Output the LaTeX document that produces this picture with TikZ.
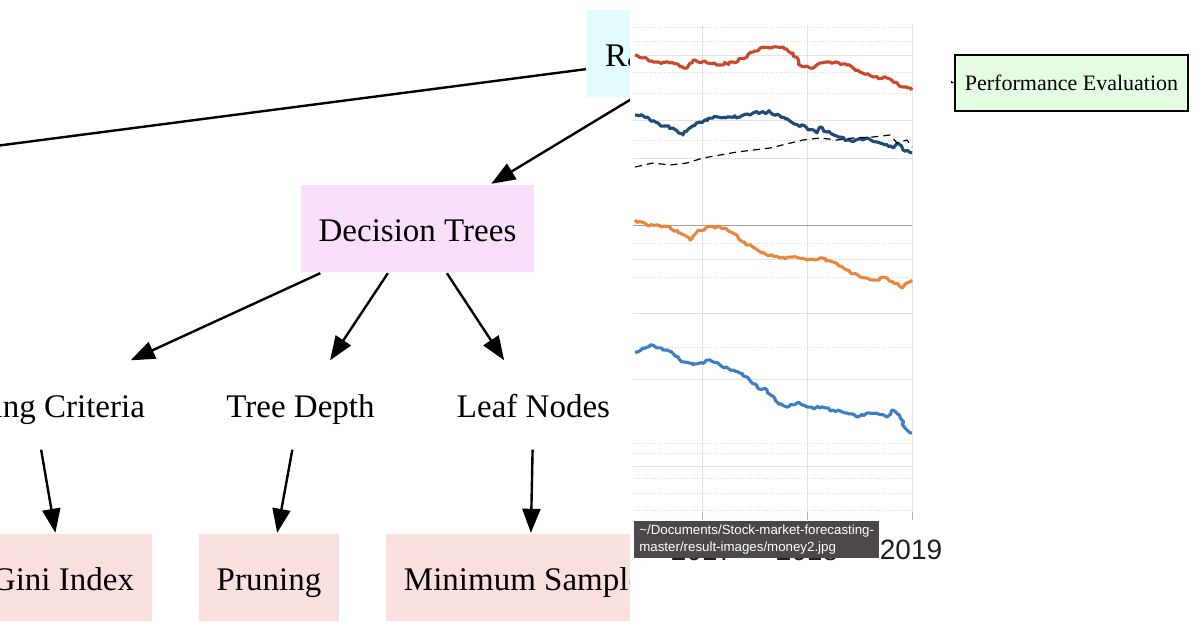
\documentclass[tikz,border=0pt]{standalone}
\usepackage{fontspec}
\setmainfont{Liberation Serif}
\newfontfamily\chartfont{Liberation Sans}
\usepackage{tikz}
\usetikzlibrary{positioning,arrows.meta,decorations.pathmorphing}

\definecolor{rootcyan}{RGB}{226,252,252}
\definecolor{treepink}{RGB}{249,223,250}
\definecolor{leafpink}{RGB}{250,223,223}
\definecolor{evalgreen}{RGB}{228,253,226}
\definecolor{tipgray}{RGB}{76,71,72}
\definecolor{lnred}{RGB}{200,72,42}
\definecolor{lnnavy}{RGB}{32,74,122}
\definecolor{lnorange}{RGB}{232,135,58}
\definecolor{lnblue}{RGB}{60,126,192}

\begin{document}
\pgfmathsetseed{7}
\begin{tikzpicture}[x=1pt,y=-1pt,>={Triangle[length=24pt,width=18pt]},line width=2.4pt,
  box/.style={rectangle, minimum height=87pt, inner xsep=18pt, text height=31pt, text depth=6pt, font=\fontsize{33}{40}\selectfont},
  grid/.style={gray!22, line width=0.8pt},
  subgrid/.style={gray!32, line width=0.8pt, dotted},
  series/.style={line width=3.1pt, line join=round, decorate, decoration={random steps, segment length=2.5pt, amplitude=1.4pt}},
  yearlbl/.style={anchor=base, text=black!88, font=\chartfont\fontsize{28}{32}\selectfont}]
  \useasboundingbox (0,0) rectangle (1200,630);
  \clip (0,0) rectangle (1200,630);

  \node[box, fill=rootcyan] (rf) at (706.5,53.5) {Random Forest};
  \node[box, fill=treepink] (dt) at (417.5,228.5) {Decision Trees};
  \node[box] (split) at (33.5,405) {Splitting Criteria};
  \node[box] (depth) at (300.5,405) {Tree Depth};
  \node[box] (leaf) at (533.5,405) {Leaf Nodes};
  \node[box, fill=leafpink] (gini) at (63,577.5) {Gini Index};
  \node[box, fill=leafpink] (prune) at (269,577.5) {Pruning};
  \node[box, fill=leafpink] (minsamp) at (530,577.5) {Minimum Samples};
  \node[draw, line width=1.4pt, fill=evalgreen, minimum width=233pt, minimum height=56pt, font=\fontsize{22}{26}\selectfont] (pe) at (1071.5,83) {Performance Evaluation};
  \coordinate (offleft) at (-20,148);

  \draw (rf) -- (offleft);
  \draw[->] (rf) -- (dt);
  \draw[->, >={Triangle[length=12pt,width=9pt]}] (rf.east) -- (pe.west);
  \draw[->] (dt) -- (split);
  \draw[->] (dt) -- (depth);
  \draw[->] (dt) -- (leaf);
  \draw[->] (split) -- (gini);
  \draw[->] (depth) -- (prune);
  \draw[->] (leaf) -- (minsamp);

  % picture laid over the graph
  \fill[white] (630,0) rectangle (951,630);
  \foreach \gy in {27,41,72,93,140,243,277,347,443,453,478,493,510}
    \draw[subgrid] (633,\gy) -- (912,\gy);
  \foreach \gy in {55,120,158,259,313,379,466}
    \draw[grid] (633,\gy) -- (912,\gy);
  \foreach \gx in {702,807,912}
    \draw[grid] (\gx,25) -- (\gx,512);
  \foreach \gx in {702,807,912}
    \draw[gray!60, line width=0.8pt] (\gx,512) -- (\gx,520);
  \draw[gray!75, line width=1pt] (633,225) -- (912,225);

  \draw[series, lnred] plot coordinates {(635,55) (653,62) (670,63) (687,68) (695,60) (707,63) (720,65) (733,62) (747,57) (753,52) (763,47) (783,47) (793,53) (800,65) (810,68) (820,63) (830,62) (847,65) (860,72) (873,77) (887,78) (893,82) (903,87) (912,90)};
  \draw[series, lnnavy] plot coordinates {(635,115) (647,117) (660,125) (673,128) (683,135) (690,128) (700,122) (713,118) (727,117) (740,117) (753,113) (770,112) (783,117) (793,123) (807,128) (817,133) (820,127) (827,132) (840,137) (853,142) (867,138) (880,143) (893,148) (898,143) (903,150) (912,153)};
  \draw[black, line width=1.2pt, dash pattern=on 7pt off 5pt] plot coordinates {(635,167) (653,163) (670,165) (687,163) (703,158) (737,152) (770,148) (803,140) (820,138) (837,140) (853,138) (873,137) (890,135) (897,143) (907,140) (912,147)};
  \draw[series, lnorange] plot coordinates {(635,220) (647,225) (670,227) (680,233) (690,240) (697,232) (707,227) (720,227) (733,233) (743,242) (753,247) (767,255) (780,258) (793,257) (807,260) (820,258) (833,262) (847,270) (860,277) (873,280) (887,278) (893,282) (902,288) (912,280)};
  \draw[series, lnblue] plot coordinates {(635,352) (650,345) (667,350) (680,360) (693,365) (710,360) (720,365) (733,370) (747,377) (757,387) (767,390) (777,402) (787,407) (797,403) (807,407) (820,408) (833,410) (847,413) (857,417) (867,413) (877,413) (887,417) (893,410) (900,417) (907,430) (912,433)};

  \node[yearlbl] (y17) at (702,560) {2017};
  \node[yearlbl] (y18) at (807,560) {2018};
  \node[yearlbl] (y19) at (911,559) {2019};
  \node[fill=tipgray, text=white, anchor=north west, minimum width=245pt, minimum height=37pt, inner xsep=2pt, inner ysep=1pt, align=left, font=\chartfont\fontsize{13.3}{16.5}\selectfont] (tip) at (633,520) {\textasciitilde/Documents/Stock-market-forecasting-\\master/result-images/money2.jpg};
\end{tikzpicture}
\end{document}
